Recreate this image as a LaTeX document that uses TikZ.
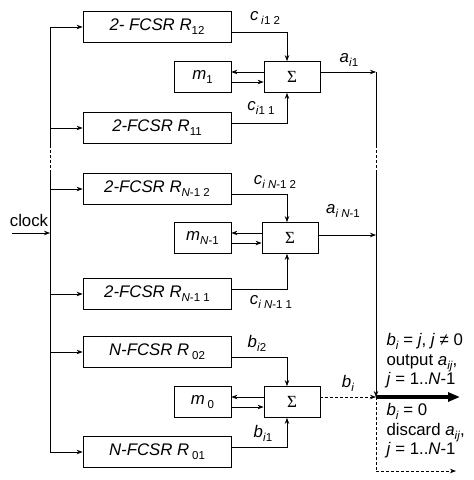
\documentclass[tikz,border=0pt]{standalone}
\usepackage{fontspec}
\setmainfont{Liberation Sans}
\newfontfamily\sigmafont{Liberation Serif}
\usetikzlibrary{arrows.meta,positioning}
\newcommand{\lo}[1]{\raisebox{-0.45ex}{\fontsize{11.5}{11.5}\selectfont #1}}
\newcommand{\sumsign}{{\sigmafont\fontsize{17}{17}\selectfont Σ}}

\begin{document}
\begin{tikzpicture}[
  x=1pt,y=-1pt,
  every node/.style={font=\fontsize{16.8}{19.5}\selectfont},
  fcsrbox/.style={draw,line width=0.8pt,minimum width=148pt,minimum height=31pt,inner sep=0pt},
  membox/.style={draw,line width=0.8pt,minimum width=57pt,minimum height=31pt,inner sep=0pt},
  sumbox/.style={draw,line width=0.8pt,minimum width=56pt,minimum height=31pt,inner sep=0pt},
  wire/.style={line width=0.7pt},
  conn/.style={line width=0.7pt,-{Stealth[length=6pt,width=4.5pt]}},
  gap/.style={dash pattern=on 3pt off 2pt},
]
  \useasboundingbox (0,0) rectangle (474,480);

  % FCSR registers
  \node[fcsrbox] (r12) at (157,27) {\textit{2- FCSR R}\lo{12}};
  \node[fcsrbox] (r11) at (157,128) {\textit{2-FCSR R}\lo{11}};
  \node[fcsrbox] (rn2) at (157,189) {\textit{2-FCSR R}\lo{\textit{N}-1 2}};
  \node[fcsrbox] (rn1) at (157,294) {\textit{2-FCSR R}\lo{\textit{N}-1 1}};
  \node[fcsrbox] (r02) at (157,352) {\textit{N-FCSR R}\,\lo{02}};
  \node[fcsrbox] (r01) at (157,452) {\textit{N-FCSR R}\,\lo{01}};

  % memory cells and adders
  \node[membox] (m1) at (202.5,77) {\textit{m}\lo{1}};
  \node[membox] (mn) at (202.5,238) {\textit{m}\lo{\textit{N}-1}};
  \node[membox] (m0) at (202.5,402) {\textit{m}\,\lo{0}};
  \node[sumbox] (s1) at (292,77) {\sumsign};
  \node[sumbox] (sn) at (290,238) {\sumsign};
  \node[sumbox] (s0) at (292,402) {\sumsign};

  % clock bus
  \coordinate (lt) at (50,27);
  \coordinate (lg1) at (50,145);
  \coordinate (lg2) at (50,172);
  \coordinate (lb) at (50,452);
  \coordinate (clk) at (12,233);
  \draw[wire] (lt) -- (lg1);
  \draw[wire,gap] (lg1) -- (lg2);
  \draw[wire] (lg2) -- (lb);
  \draw[conn] (clk) -- (clk -| lt);
  \node (clocklbl) at (29,220) {clock};
  \foreach \r in {r12,r11,rn2,rn1,r02,r01}
    \draw[conn] (\r.west -| lt) -- (\r.west);

  % carries into the adders
  \draw[conn] ([yshift=-5pt]r12.east) -| ([xshift=-5pt]s1.north);
  \draw[conn] ([yshift=5pt]r11.east) -| ([xshift=-5pt]s1.south);
  \draw[conn] ([yshift=-5pt]rn2.east) -| ([xshift=-3pt]sn.north);
  \draw[conn] ([yshift=5pt]rn1.east) -| ([xshift=-3pt]sn.south);
  \draw[conn] ([yshift=-5pt]r02.east) -| ([xshift=-5pt]s0.north);
  \draw[conn] ([yshift=5pt]r01.east) -| ([xshift=-5pt]s0.south);
  \node (c12) at (265,18) {\textit{c}\,\lo{\textit{i}1 2}};
  \node (c11) at (261,108) {\textit{c}\lo{\textit{i}1 1}};
  \node (cn2) at (275,182) {\textit{c}\lo{\textit{i N}-1 2}};
  \node (cn1) at (271,302) {\textit{c}\lo{\textit{i N}-1 1}};
  \node (b2) at (257,343) {\textit{b}\lo{\textit{i}2}};
  \node (b1) at (263,433) {\textit{b}\lo{\textit{i}1}};

  % adder <-> memory
  \foreach \m/\s in {m1/s1,mn/sn,m0/s0} {
    \draw[conn] ([yshift=5pt]\s.west) -- ([yshift=5pt]\m.east);
    \draw[conn] ([yshift=-5pt]\m.east) -- ([yshift=-5pt]\s.west);
  }

  % output bus
  \coordinate (a1) at (376,72);
  \coordinate (an) at (376,235);
  \coordinate (rg1) at (376,145);
  \coordinate (rg2) at (376,172);
  \coordinate (jn) at (376,397);
  \coordinate (outE) at (460,397);
  \coordinate (db) at (376,471);
  \coordinate (de) at (456,471);
  \draw[conn] ([yshift=5pt]s1.east) -- (a1);
  \draw[conn] ([yshift=3pt]sn.east) -- (an);
  \draw[conn,gap] ([yshift=5pt]s0.east) -- (jn);
  \node (a1lbl) at (349,60) {\textit{a}\lo{\textit{i}1}};
  \node (anlbl) at (343,211) {\textit{a}\lo{\textit{i N}-1}};
  \node (bilbl) at (348,383) {\textit{b}\lo{\textit{i}}};
  \draw[wire] (a1) -- (rg1);
  \draw[wire,gap] (rg1) -- (rg2);
  \draw[conn] (rg2) -- (jn);
  \draw[line width=3.2pt,-{Triangle[length=12pt,width=9pt]}] (jn) -- (outE);
  \draw[wire,gap] (jn) -- (db);
  \draw[conn,gap] (db) -- (de);

  % selection rule
  \node[align=left,anchor=west] (cond1) at (383,361)
    {\textit{b}\lo{\textit{i}} = \textit{j}, \textit{j} ≠ 0\\output \textit{a}\lo{\textit{ij}},\\\textit{j} = 1..\textit{N}-1};
  \node[align=left,anchor=west] (cond2) at (383,431)
    {\textit{b}\lo{\textit{i}} = 0\\discard \textit{a}\lo{\textit{ij}},\\\textit{j} = 1..\textit{N}-1};
\end{tikzpicture}
\end{document}
